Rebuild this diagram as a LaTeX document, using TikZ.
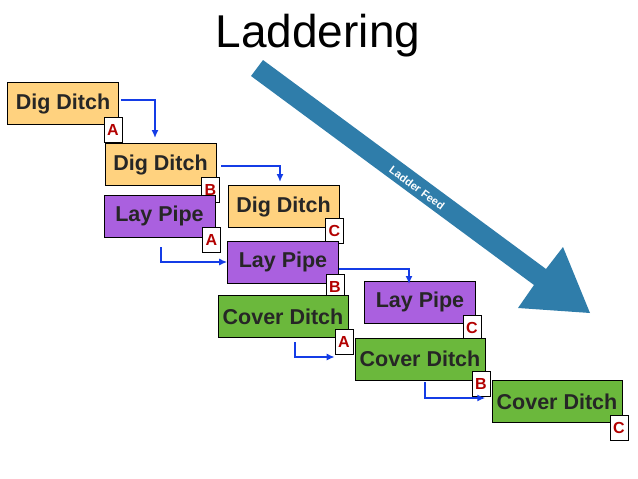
\documentclass[tikz,border=0pt]{standalone}
\usepackage{fontspec}
\setmainfont{Liberation Sans}
\usetikzlibrary{arrows.meta}
\begin{document}
\begin{tikzpicture}[x=1pt,y=-1pt,
  box/.style={draw=black,line width=0.6pt,minimum width=#1,minimum height=42pt,inner sep=0pt,font=\fontsize{21.5}{22}\selectfont\bfseries,text=black!85},
  dig/.style={box=111pt},
  lay/.style={box=111pt},
  cov/.style={box=130pt},
  tag/.style={draw=black,fill=white,line width=0.6pt,minimum width=18pt,minimum height=25pt,inner sep=0pt,font=\fontsize{16}{16}\selectfont\bfseries,text=red!70!black},
  conn/.style={draw={rgb,255:red,20;green,60;blue,230},line width=1.5pt,-{Latex[length=8pt,width=7pt]}}]
\useasboundingbox (0,0) rectangle (638,479);
\definecolor{dig}{HTML}{FFD27F}\definecolor{lay}{HTML}{AA60DF}\definecolor{cov}{HTML}{6BB83C}\definecolor{feed}{HTML}{2F7DAA}
\tikzset{dig/.append style={fill=dig},lay/.append style={fill=lay},cov/.append style={fill=cov}}
\node[font=\fontsize{46}{48}\selectfont] (title) at (318,36) {Laddering};
% big arrow
\fill[feed] (263,60) -- (546,269) -- (563,247) -- (590,313) -- (518,308) -- (534,285) -- (251,76) -- cycle;
\node[rotate=-36.5,text=white,font=\fontsize{11}{11}\selectfont\bfseries] (feed) at (417,188) {Ladder Feed};
% boxes
\node[dig] (b1) at (63,103.5) {Dig Ditch};
\node[tag] (t1) at (113,130) {A};
\node[dig] (b2) at (160.5,164.5) {Dig Ditch};
\node[tag] (t2) at (210.5,190) {B};
\node[lay] (b3) at (159.5,216) {Lay Pipe};
\node[tag] (t3) at (211.5,240) {A};
\node[dig] (b4) at (283.5,206.5) {Dig Ditch};
\node[tag] (t4) at (334.5,231) {C};
\node[lay] (b5) at (283,262) {Lay Pipe};
\node[tag] (t5) at (335,287) {B};
\node[cov] (b6) at (283,316.5) {Cover Ditch};
\node[tag] (t6) at (344,341.5) {A};
\node[lay] (b7) at (420,302) {Lay Pipe};
\node[tag] (t7) at (472,327.5) {C};
\node[cov] (b8) at (420,359) {Cover Ditch};
\node[tag] (t8) at (481,383.5) {B};
\node[cov] (b9) at (557,401.5) {Cover Ditch};
\node[tag] (t9) at (619,427.5) {C};
% connectors
\draw[conn] (b1.east |- 0,100) ++(2,0) -| (155,138);
\draw[conn] (221,166) -| (280,182);
\draw[conn] (161,247) |- (b5.west);
\draw[conn] (b5.east |- 0,269) -| (409,284);
\draw[conn] (295,342) |- (t6.west |- 0,357);
\draw[conn] (425,382) |- (b8.east |- 0,398);
\end{tikzpicture}
\end{document}
